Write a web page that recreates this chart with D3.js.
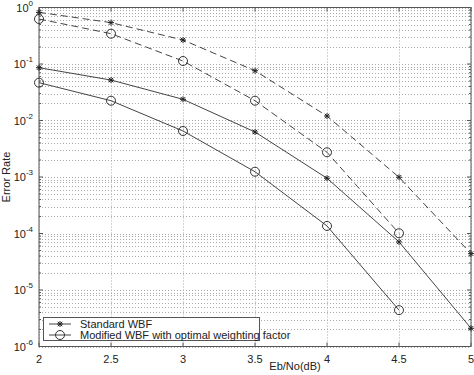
<!DOCTYPE html>
<html><head><meta charset="utf-8">
<script src="https://cdn.jsdelivr.net/npm/d3@7"></script>
<style>body{margin:0;background:#fff;} text{font-family:"Liberation Sans",Arial,sans-serif;}</style>
</head><body><svg id="c" width="474" height="375"></svg>
<script>
const ebno = [2, 2.5, 3, 3.5, 4, 4.5, 5];
const stdDashed = [0.82, 0.54, 0.266, 0.076, 0.012, 0.00099, 4.4e-5];
const stdSolid = [0.086, 0.052, 0.0237, 0.00626, 0.00095, 7.1e-5, 2.1e-6];
const modDashed = [0.626, 0.344, 0.113, 0.0224, 0.00274, 1.01e-4];
const modSolid = [0.0467, 0.0224, 0.00652, 0.00124, 1.36e-4, 4.4e-6];
const xTicks = [2, 2.5, 3, 3.5, 4, 4.5, 5];
const yExps = [0, -1, -2, -3, -4, -5, -6];
const legendLabels = ["Standard WBF", "Modified WBF with optimal weighting factor"];

const svg = d3.select("#c");
const L = 39, R = 471, T = 7.5, B = 346.5;
const x = d3.scaleLinear().domain([2, 5]).range([L, R]);
const y = d3.scaleLog().domain([1e-6, 1]).range([B, T]);

// grid
const g = svg.append("g");
const minor = [];
for (let e = -6; e < 0; e++) for (let k = 1; k < 10; k++) minor.push(k * Math.pow(10, e));
minor.push(1);
g.selectAll(".hg").data(minor).enter().append("line")
  .attr("x1", L).attr("x2", R).attr("y1", d => Math.round(y(d)) + 0.5).attr("y2", d => Math.round(y(d)) + 0.5)
  .attr("stroke", "#aaa").attr("stroke-width", 1).attr("stroke-dasharray", "1,2");
g.selectAll(".vg").data(xTicks).enter().append("line")
  .attr("y1", T).attr("y2", B).attr("x1", d => Math.round(x(d)) + 0.5).attr("x2", d => Math.round(x(d)) + 0.5)
  .attr("stroke", "#aaa").attr("stroke-width", 1).attr("stroke-dasharray", "1,2");

// frame
svg.append("rect").attr("x", L).attr("y", T).attr("width", R - L).attr("height", B - T)
  .attr("fill", "none").attr("stroke", "#555").attr("stroke-width", 1);

// ticks
const tk = svg.append("g").attr("stroke", "#555");
xTicks.forEach(v => {
  const px = x(v);
  tk.append("line").attr("x1", px).attr("x2", px).attr("y1", B).attr("y2", B - 4);
  tk.append("line").attr("x1", px).attr("x2", px).attr("y1", T).attr("y2", T + 4);
});
minor.forEach(v => {
  const py = y(v);
  const len = (Math.abs(Math.log10(v) - Math.round(Math.log10(v))) < 1e-9) ? 4 : 2;
  tk.append("line").attr("x1", L).attr("x2", L + len).attr("y1", py).attr("y2", py);
  tk.append("line").attr("x1", R).attr("x2", R - len).attr("y1", py).attr("y2", py);
});

// tick labels
svg.selectAll(".xl").data(xTicks).enter().append("text")
  .attr("x", d => x(d)).attr("y", B + 16).attr("text-anchor", "middle")
  .attr("font-size", 11).attr("fill", "#222").text(d => d);
yExps.forEach(e => {
  const t = svg.append("text").attr("x", L - 6).attr("y", y(Math.pow(10, e)) + 4)
    .attr("text-anchor", "end").attr("font-size", 11).attr("fill", "#222");
  t.append("tspan").text("10");
  t.append("tspan").attr("dy", -6).attr("font-size", 8).text(e);
});

// axis labels
svg.append("text").attr("x", (L + R) / 2 + 40).attr("y", 370).attr("text-anchor", "middle")
  .attr("font-size", 11).attr("fill", "#222").text("Eb/No(dB)");
svg.append("text").attr("transform", `translate(10,${(T + B) / 2}) rotate(-90)`).attr("text-anchor", "middle")
  .attr("font-size", 11).attr("fill", "#222").text("Error Rate");

// series
const line = d3.line().x((d, i) => x(ebno[i])).y(d => y(d));
const series = [
  {data: stdDashed, dash: "7,4", mark: "star"},
  {data: modDashed, dash: "7,4", mark: "circle"},
  {data: stdSolid, dash: null, mark: "star"},
  {data: modSolid, dash: null, mark: "circle"}
];
function drawMark(sel, type, cx, cy) {
  if (type === "circle") {
    sel.append("circle").attr("cx", cx).attr("cy", cy).attr("r", 4.5)
      .attr("fill", "none").attr("stroke", "#333").attr("stroke-width", 1);
  } else {
    const s = 3;
    const p = sel.append("g").attr("stroke", "#222").attr("stroke-width", 1);
    p.append("line").attr("x1", cx - s).attr("x2", cx + s).attr("y1", cy).attr("y2", cy);
    p.append("line").attr("x1", cx).attr("x2", cx).attr("y1", cy - s).attr("y2", cy + s);
    p.append("line").attr("x1", cx - s * 0.75).attr("x2", cx + s * 0.75).attr("y1", cy - s * 0.75).attr("y2", cy + s * 0.75);
    p.append("line").attr("x1", cx - s * 0.75).attr("x2", cx + s * 0.75).attr("y1", cy + s * 0.75).attr("y2", cy - s * 0.75);
  }
}
series.forEach(s => {
  svg.append("path").attr("d", line(s.data)).attr("fill", "none").attr("stroke", "#444")
    .attr("stroke-width", 1).attr("stroke-dasharray", s.dash);
  const mg = svg.append("g");
  s.data.forEach((v, i) => drawMark(mg, s.mark, x(ebno[i]), y(v)));
});

// legend
const lg = svg.append("g");
lg.append("rect").attr("x", 43.5).attr("y", 317.5).attr("width", 216).attr("height", 23)
  .attr("fill", "#fff").attr("stroke", "#555").attr("stroke-width", 1);
[["star", 0], ["circle", 1]].forEach(([m, i]) => {
  const ly = 324 + i * 11;
  lg.append("line").attr("x1", 49).attr("x2", 71).attr("y1", ly).attr("y2", ly).attr("stroke", "#444");
  drawMark(lg, m, 60, ly);
  lg.append("text").attr("x", 80).attr("y", ly + 4).attr("font-size", 11).attr("fill", "#222").text(legendLabels[i]);
});
</script></body></html>
